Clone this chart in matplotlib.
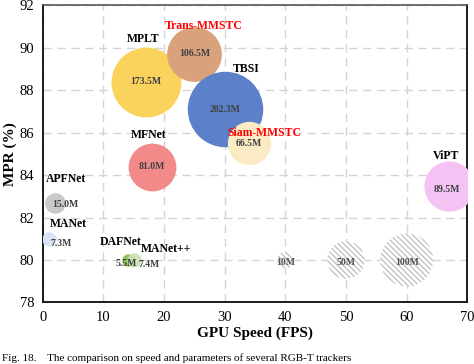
import matplotlib
matplotlib.use("Agg")
import matplotlib.pyplot as plt

# tracker data: GPU speed (FPS), MPR (%), parameters (M)
names = ["MPLT", "Trans-MMSTC", "TBSI", "Siam-MMSTC", "MFNet",
         "APFNet", "MANet", "DAFNet", "MANet++", "ViPT"]
fps = [17, 25, 30, 34, 18, 2, 1, 14, 15, 67]
mpr = [88.4, 89.7, 87.1, 85.5, 84.4, 82.7, 81.0, 80.0, 80.0, 83.5]
params = [173.5, 106.5, 202.3, 66.5, 81.0, 15.0, 7.3, 5.5, 7.4, 89.5]
colors = ["#f9d35b", "#d9a27c", "#5c80c9", "#fbebc4", "#f28a8a",
          "#c9c9c9", "#d8e3f5", "#8cc35a", "#c7e2b0", "#f4c3f4"]
name_colors = ["black", "red", "black", "red", "black",
               "black", "black", "black", "black", "black"]

# label positions (name, then parameter text)
name_xy = [(16.5, 90.4), (26.5, 91.0), (33.5, 89.0), (36.5, 86.0), (17.5, 85.9),
           (3.8, 83.8), (4.2, 81.7), (12.9, 80.85), (20.3, 80.5), (66.5, 84.9)]
value_xy = [(17, 88.4), (25, 89.7), (30, 87.1), (34, 85.5), (18, 84.4),
            (3.7, 82.6), (3.1, 80.8), (13.8, 79.85), (17.5, 79.8), (66.6, 83.3)]

# size reference bubbles
ref_fps = [40, 50, 60]
ref_params = [10, 50, 100]

scale = 14.6  # points^2 per million parameters

fig = plt.figure(figsize=(4.74, 3.64), dpi=100)
ax = fig.add_axes([0.090, 0.169, 0.896, 0.817])

serif = "Liberation Serif"

for i in range(len(names)):
    ax.scatter(fps[i], mpr[i], s=params[i] * scale, color=colors[i],
               alpha=0.9 if names[i] in ("MANet++",) else 1.0,
               linewidths=0, zorder=3)
    ax.text(name_xy[i][0], name_xy[i][1], names[i], ha="center", va="center",
            fontsize=8.5, fontweight="bold", color=name_colors[i],
            family=serif, zorder=5)
    ax.text(value_xy[i][0], value_xy[i][1], f"{params[i]:.1f}M", ha="center",
            va="center", fontsize=7, fontweight="bold", color="#404040",
            family=serif, zorder=5)

plt.rcParams["hatch.linewidth"] = 0.9
for i in range(len(ref_fps)):
    ax.scatter(ref_fps[i], 80, s=ref_params[i] * scale, facecolor="white",
               edgecolor="#bdbdbd", hatch="\\" * 6, linewidths=0, zorder=3)
    ax.text(ref_fps[i], 79.9, f"{ref_params[i]}M", ha="center", va="center",
            fontsize=7, fontweight="bold", color="#505050", family=serif, zorder=5)

ax.set_xlim(0, 70)
ax.set_ylim(78, 92)
ax.set_xticks(range(0, 71, 10))
ax.set_yticks(range(78, 93, 2))
ax.grid(True, linestyle=(0, (6, 4)), color="#d4d4d4", linewidth=1, zorder=0)
ax.set_axisbelow(True)
ax.tick_params(length=0, pad=6, labelsize=10.5)
for lab in ax.get_xticklabels() + ax.get_yticklabels():
    lab.set_family(serif)

for side in ["left", "bottom", "right"]:
    ax.spines[side].set_linewidth(1.4)
    ax.spines[side].set_color("#1a1a1a")
ax.spines["top"].set_linewidth(1.2)
ax.spines["top"].set_color("#555555")

ax.set_xlabel("GPU Speed (FPS)", fontsize=11, fontweight="bold", family=serif,
              labelpad=2)
ax.set_ylabel("MPR (%)", fontsize=11, fontweight="bold", family=serif,
              labelpad=2)

fig.text(0.005, 1 - 363 / 364, "Fig. 18.    The comparison on speed and parameters of several RGB-T trackers",
         va="bottom", ha="left", fontsize=8, family=serif)

fig.savefig("out.png", dpi=100)
